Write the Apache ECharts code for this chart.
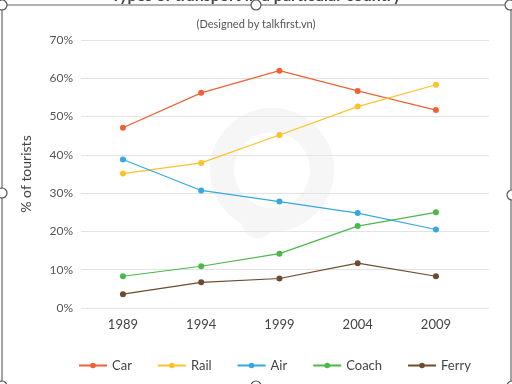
<!DOCTYPE html>
<html><head><meta charset="utf-8">
<script src="https://cdn.jsdelivr.net/npm/echarts@6/dist/echarts.min.js"></script>
<style>html,body{margin:0;padding:0;background:#fff}#c{width:512px;height:384px}</style>
</head><body><div id="c"></div>
<script>
var years = [1989, 1994, 1999, 2004, 2009];
var car   = [47.1, 56.2, 62.0, 56.7, 51.7];
var rail  = [35.1, 37.9, 45.2, 52.6, 58.3];
var air   = [38.8, 30.7, 27.8, 24.8, 20.5];
var coach = [8.3, 10.9, 14.2, 21.4, 25.0];
var ferry = [3.6, 6.7, 7.7, 11.7, 8.3];

var seriesDefs = [
  {name: 'Car', data: car, color: '#ef6136'},
  {name: 'Rail', data: rail, color: '#fcc22d'},
  {name: 'Air', data: air, color: '#36a8e0'},
  {name: 'Coach', data: coach, color: '#4cb84b'},
  {name: 'Ferry', data: ferry, color: '#6e4b2f'}
];
var font = 'Lato';
var chart = echarts.init(document.getElementById('c'));
var handle = function(x, y){
  return {type:'circle', shape:{cx:x, cy:y, r:5}, style:{fill:'#fff', stroke:'#555', lineWidth:1.2}, z:100};
};
chart.setOption({
  animation: false,
  textStyle: {fontFamily: font},
  title: {text: '(Designed by talkfirst.vn)', left: 'center', top: 14,
    textStyle: {fontSize: 11, fontWeight: 'normal', color: '#555', fontFamily: font}},
  graphic: [
    {type:'ring', shape:{cx:272, cy:170, r:62, r0:38}, style:{fill:'#f6f6f6'}, z:-10},
    {type:'circle', shape:{cx:258, cy:222, r:16}, style:{fill:'#f6f6f6'}, z:-10},
    {type:'text', left:'center', top:-12, style:{text:'Types of transport in a particular country', fontSize:16, fontWeight:'bold', fill:'#444', fontFamily:font}, z:50},
    {type:'line', shape:{x1:0, y1:5, x2:512, y2:5}, style:{stroke:'#666', lineWidth:1.2}, z:90},
    {type:'line', shape:{x1:2, y1:5, x2:2, y2:384}, style:{stroke:'#666', lineWidth:1.2}, z:90},
    {type:'line', shape:{x1:511, y1:5, x2:511, y2:384}, style:{stroke:'#666', lineWidth:1.2}, z:90},
    handle(2, 5), handle(256, 5), handle(510, 5), handle(2, 193), handle(512, 195), handle(256, 386), handle(2, 386), handle(512, 386)
  ],
  grid: {left: 81, right: 23, top: 40, bottom: 76},
  legend: {
    bottom: 7, left: 73, itemWidth: 28, itemHeight: 7, itemGap: 25,
    textStyle: {fontSize: 13, color: '#444', fontFamily: font},
    data: seriesDefs.map(function(s){return s.name;})
  },
  xAxis: {
    type: 'value', min: 1986.32, max: 2012.39,
    axisLine: {show: false}, axisTick: {show: false}, splitLine: {show: false},
    axisLabel: {customValues: years, formatter: function(v){return String(v);}, fontSize: 13, color: '#444', margin: 10, fontFamily: font}
  },
  yAxis: {
    type: 'value', min: 0, max: 70, interval: 10,
    name: '% of tourists', nameLocation: 'middle', nameGap: 48, nameRotate: 90,
    nameTextStyle: {fontSize: 14, color: '#444', fontFamily: font},
    axisLine: {show: false}, axisTick: {show: false},
    axisLabel: {formatter: '{value}%', fontSize: 12, color: '#555', margin: 8, fontFamily: font},
    splitLine: {lineStyle: {color: '#e3e3e3', width: 1}}
  },
  series: seriesDefs.map(function(s){
    return {
      name: s.name, type: 'line',
      data: years.map(function(y, i){return [y, s.data[i]];}),
      symbol: 'circle', symbolSize: 6,
      lineStyle: {color: s.color, width: 1.2},
      itemStyle: {color: s.color}
    };
  })
});
</script></body></html>
